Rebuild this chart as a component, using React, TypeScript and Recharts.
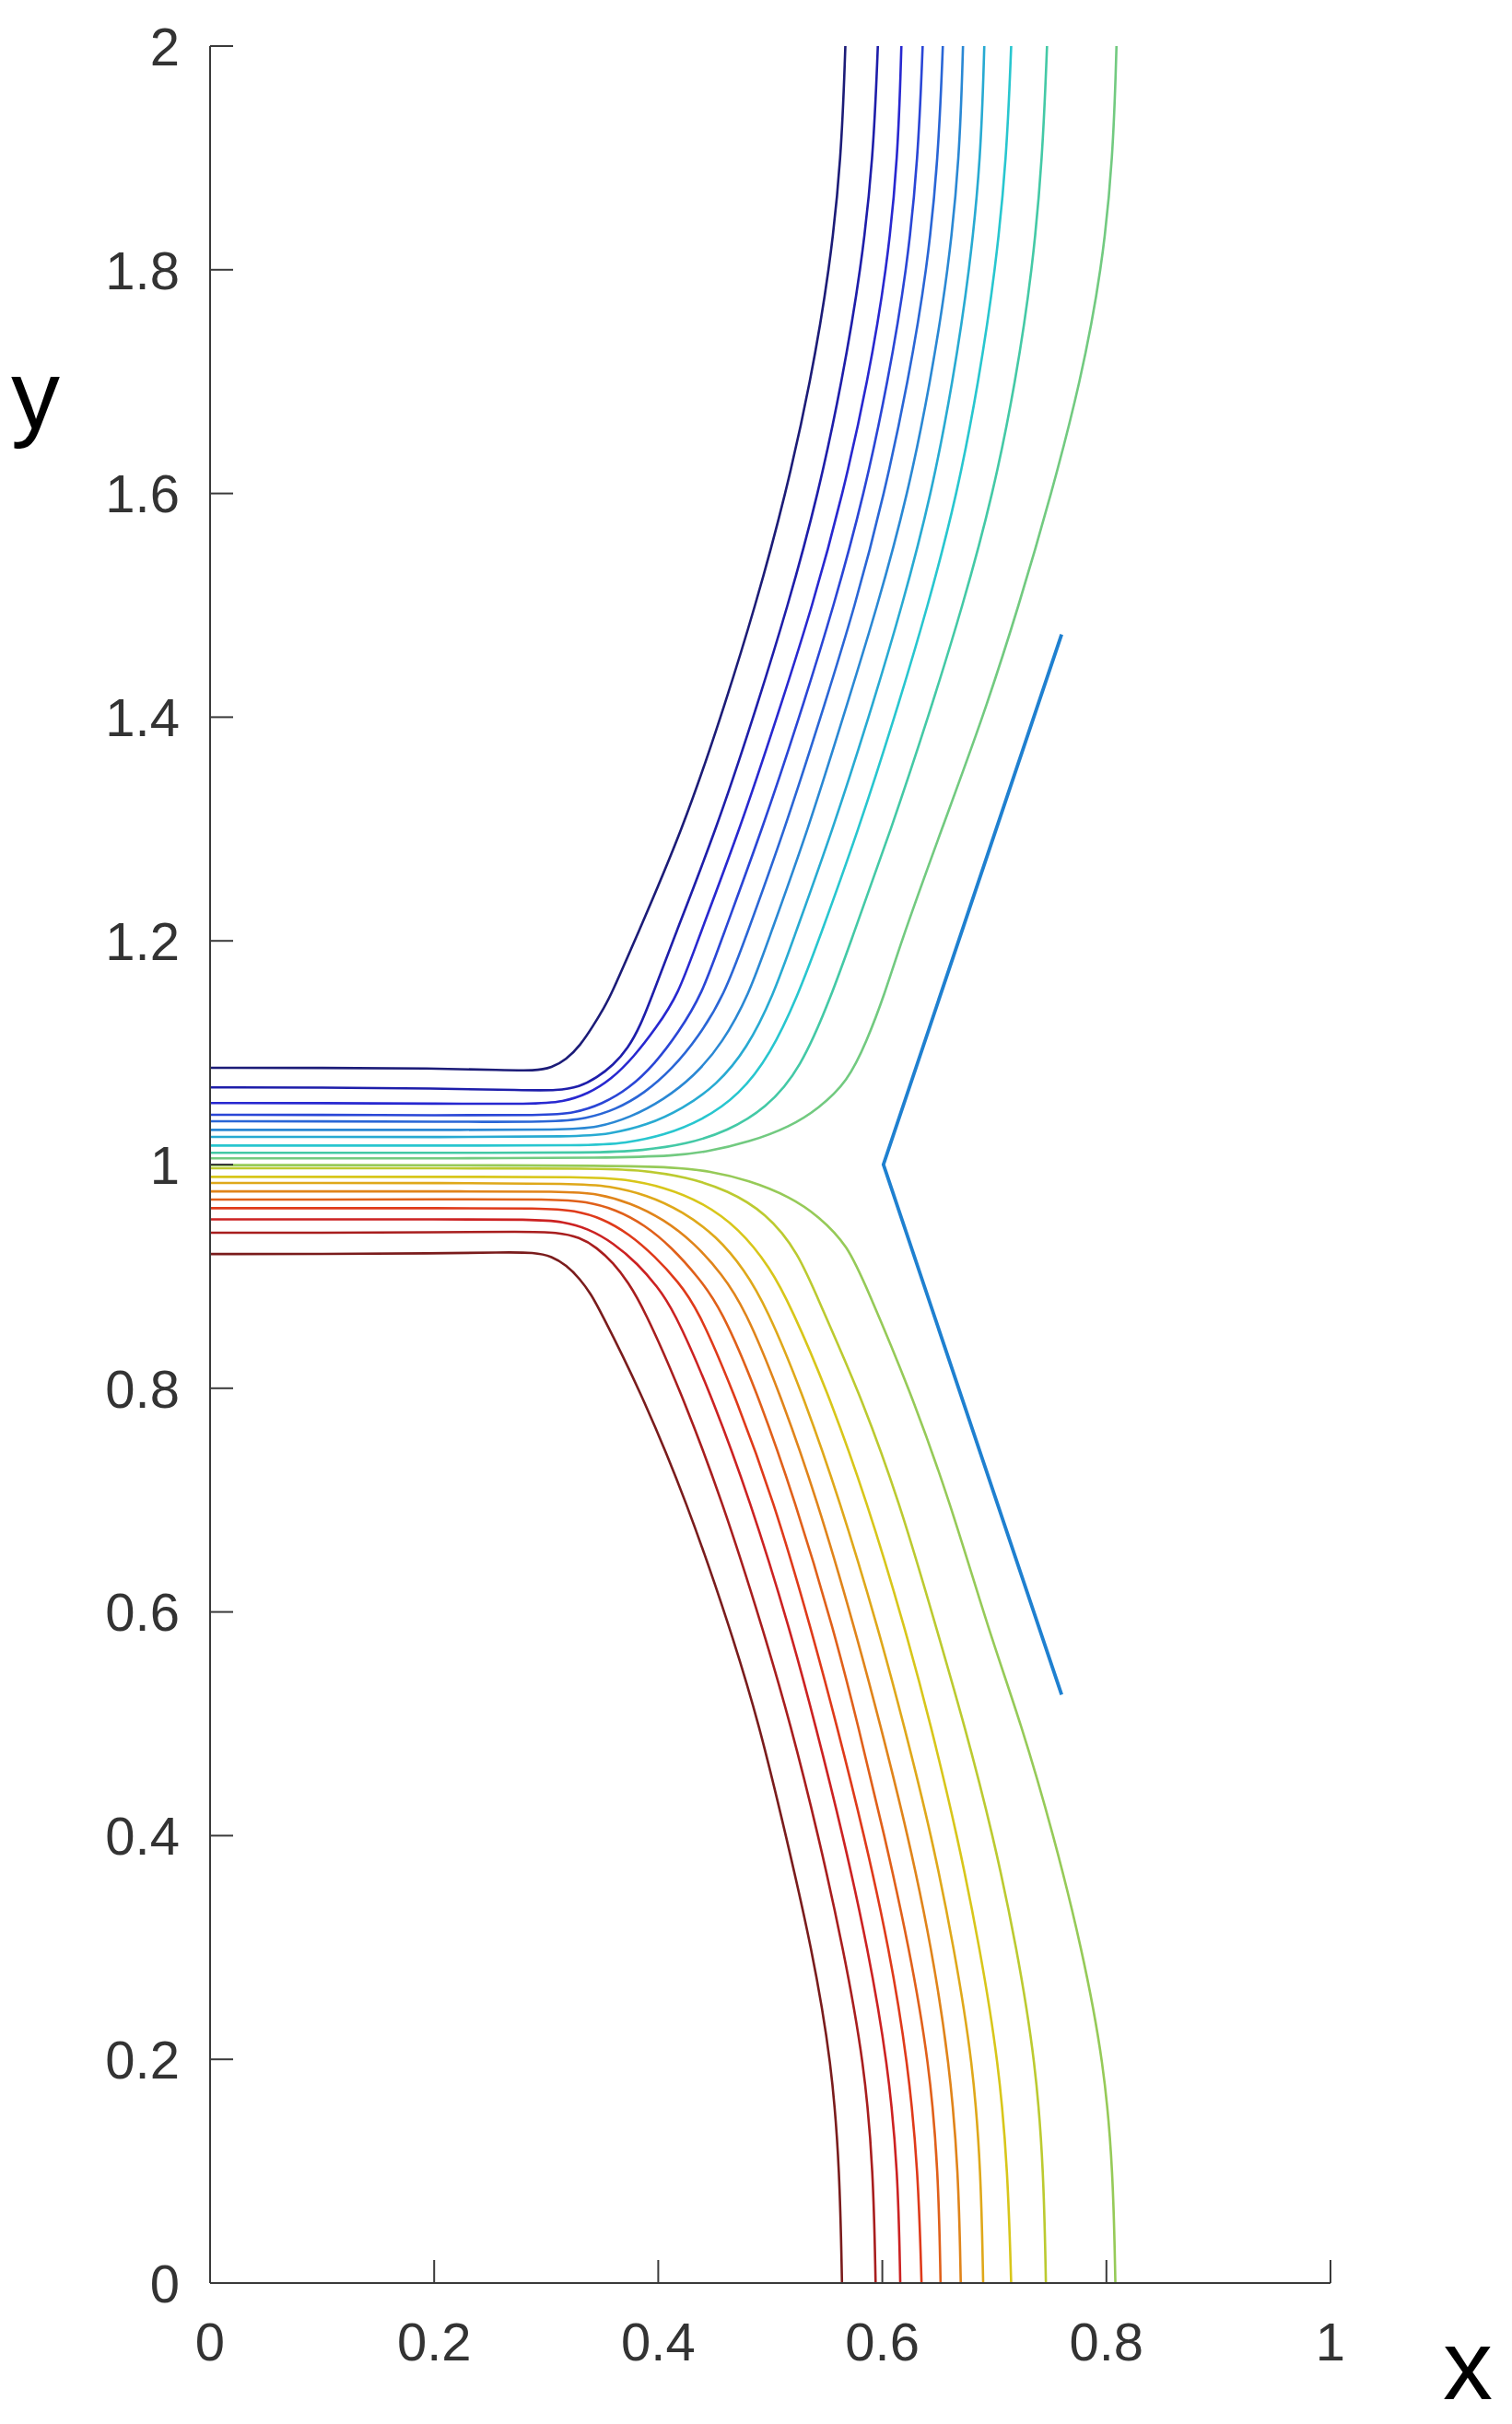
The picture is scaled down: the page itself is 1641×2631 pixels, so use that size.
import React from 'react';
import { LineChart, Line, XAxis, YAxis } from 'recharts';

type P = [number, number];

const xTicks = [0, 0.2, 0.4, 0.6, 0.8, 1];
const xTickLabels = ['0', '0.2', '0.4', '0.6', '0.8', '1'];
const yTicks = [0, 0.2, 0.4, 0.6, 0.8, 1, 1.2, 1.4, 1.6, 1.8, 2];
const yTickLabels = ['0', '0.2', '0.4', '0.6', '0.8', '1', '1.2', '1.4', '1.6', '1.8', '2'];

// upper family (navy -> green), outermost first
const upper0: P[] = [[0,1.0865],[0.1,1.0865],[0.2,1.086],[0.26,1.0845],[0.29,1.0838],[0.305,1.0865],[0.318,1.094],[0.33,1.106],[0.342,1.124],[0.352,1.141],[0.358,1.152],[0.379,1.2],[0.422,1.3],[0.456,1.4],[0.487,1.5],[0.514,1.6],[0.536,1.7],[0.553,1.8],[0.5635,1.9],[0.567,2.0]];
const upper1: P[] = [[0,1.069],[0.1,1.069],[0.2,1.068],[0.28,1.0665],[0.31,1.066],[0.33,1.0695],[0.345,1.0775],[0.36,1.089],[0.373,1.104],[0.384,1.124],[0.395,1.152],[0.413,1.2],[0.452,1.3],[0.485,1.4],[0.516,1.5],[0.543,1.6],[0.564,1.7],[0.581,1.8],[0.592,1.9],[0.596,2.0]];
const upper2: P[] = [[0,1.055],[0.1,1.055],[0.2,1.0545],[0.29,1.054],[0.315,1.056],[0.337,1.063],[0.358,1.076],[0.378,1.096],[0.398,1.122],[0.418,1.152],[0.435,1.2],[0.473,1.3],[0.506,1.4],[0.538,1.5],[0.565,1.6],[0.587,1.7],[0.604,1.8],[0.614,1.9],[0.617,2.0]];
const upper3: P[] = [[0,1.0445],[0.1,1.0445],[0.2,1.044],[0.3,1.044],[0.325,1.046],[0.35,1.054],[0.374,1.068],[0.397,1.09],[0.418,1.118],[0.439,1.152],[0.456,1.2],[0.493,1.3],[0.526,1.4],[0.557,1.5],[0.584,1.6],[0.605,1.7],[0.622,1.8],[0.632,1.9],[0.636,2.0]];
const upper4: P[] = [[0,1.0387],[0.1,1.0387],[0.2,1.0383],[0.31,1.038],[0.335,1.041],[0.362,1.049],[0.388,1.064],[0.412,1.085],[0.436,1.114],[0.459,1.152],[0.477,1.2],[0.513,1.3],[0.545,1.4],[0.576,1.5],[0.602,1.6],[0.623,1.7],[0.64,1.8],[0.65,1.9],[0.654,2.0]];
const upper5: P[] = [[0,1.031],[0.1,1.031],[0.2,1.031],[0.32,1.031],[0.345,1.033],[0.375,1.042],[0.405,1.058],[0.432,1.079],[0.457,1.108],[0.481,1.152],[0.498,1.2],[0.534,1.3],[0.565,1.4],[0.596,1.5],[0.623,1.6],[0.643,1.7],[0.659,1.8],[0.669,1.9],[0.672,2.0]];
const upper6: P[] = [[0,1.0247],[0.1,1.0247],[0.2,1.0245],[0.33,1.025],[0.355,1.027],[0.39,1.035],[0.422,1.05],[0.452,1.071],[0.479,1.103],[0.503,1.152],[0.52,1.2],[0.556,1.3],[0.588,1.4],[0.618,1.5],[0.644,1.6],[0.663,1.7],[0.678,1.8],[0.688,1.9],[0.691,2.0]];
const upper7: P[] = [[0,1.017],[0.1,1.017],[0.2,1.017],[0.34,1.017],[0.37,1.019],[0.405,1.026],[0.44,1.04],[0.472,1.062],[0.5,1.098],[0.525,1.152],[0.543,1.2],[0.579,1.3],[0.611,1.4],[0.641,1.5],[0.667,1.6],[0.686,1.7],[0.701,1.8],[0.711,1.9],[0.715,2.0]];
const upper8: P[] = [[0,1.0105],[0.1,1.0105],[0.2,1.0105],[0.35,1.0105],[0.385,1.0125],[0.425,1.018],[0.462,1.03],[0.496,1.05],[0.527,1.085],[0.555,1.152],[0.572,1.2],[0.608,1.3],[0.641,1.4],[0.672,1.5],[0.699,1.6],[0.719,1.7],[0.734,1.8],[0.743,1.9],[0.747,2.0]];
const upper9: P[] = [[0,1.0055],[0.1,1.0055],[0.2,1.0055],[0.36,1.006],[0.415,1.0078],[0.444,1.0115],[0.481,1.02],[0.518,1.034],[0.543,1.05],[0.569,1.074],[0.586,1.11],[0.602,1.152],[0.617,1.2],[0.653,1.3],[0.69,1.4],[0.722,1.5],[0.751,1.6],[0.777,1.7],[0.796,1.8],[0.806,1.9],[0.809,2.0]];

// lower family (dark red -> green), outermost first
const lower0: P[] = [[0,0.92],[0.1,0.92],[0.2,0.9205],[0.26,0.9215],[0.29,0.9215],[0.305,0.918],[0.318,0.91],[0.33,0.898],[0.34,0.884],[0.347,0.8715],[0.383,0.8],[0.425,0.7],[0.465,0.583],[0.49,0.5],[0.514,0.4],[0.537,0.3],[0.555,0.196],[0.562,0.1],[0.564,0]];
const lower1: P[] = [[0,0.939],[0.1,0.939],[0.2,0.9395],[0.28,0.94],[0.31,0.9395],[0.33,0.935],[0.345,0.926],[0.36,0.912],[0.373,0.895],[0.387,0.8715],[0.419,0.8],[0.457,0.7],[0.494,0.583],[0.518,0.5],[0.543,0.4],[0.565,0.3],[0.584,0.196],[0.592,0.1],[0.594,0]];
const lower2: P[] = [[0,0.951],[0.1,0.951],[0.2,0.951],[0.29,0.951],[0.315,0.949],[0.337,0.943],[0.36,0.93],[0.382,0.911],[0.399,0.891],[0.413,0.8715],[0.445,0.8],[0.482,0.7],[0.518,0.583],[0.54,0.5],[0.565,0.4],[0.587,0.3],[0.605,0.196],[0.614,0.1],[0.616,0]];
const lower3: P[] = [[0,0.961],[0.1,0.961],[0.2,0.961],[0.3,0.961],[0.325,0.959],[0.35,0.952],[0.374,0.938],[0.397,0.918],[0.418,0.895],[0.435,0.8715],[0.466,0.8],[0.503,0.7],[0.537,0.583],[0.559,0.5],[0.584,0.4],[0.606,0.3],[0.623,0.196],[0.632,0.1],[0.635,0]];
const lower4: P[] = [[0,0.9687],[0.1,0.9687],[0.2,0.969],[0.31,0.969],[0.335,0.967],[0.362,0.96],[0.388,0.946],[0.412,0.926],[0.436,0.899],[0.456,0.8715],[0.487,0.8],[0.522,0.7],[0.557,0.583],[0.578,0.5],[0.602,0.4],[0.624,0.3],[0.642,0.196],[0.65,0.1],[0.652,0]];
const lower5: P[] = [[0,0.976],[0.1,0.976],[0.2,0.976],[0.32,0.976],[0.345,0.974],[0.375,0.966],[0.405,0.951],[0.432,0.93],[0.457,0.902],[0.477,0.8715],[0.507,0.8],[0.542,0.7],[0.576,0.583],[0.598,0.5],[0.623,0.4],[0.644,0.3],[0.66,0.196],[0.668,0.1],[0.67,0]];
const lower6: P[] = [[0,0.9835],[0.1,0.9835],[0.2,0.9835],[0.33,0.983],[0.355,0.981],[0.39,0.973],[0.422,0.958],[0.452,0.936],[0.477,0.906],[0.497,0.8715],[0.527,0.8],[0.562,0.7],[0.597,0.583],[0.619,0.5],[0.644,0.4],[0.664,0.3],[0.681,0.196],[0.688,0.1],[0.69,0]];
const lower7: P[] = [[0,0.989],[0.1,0.989],[0.2,0.989],[0.34,0.989],[0.37,0.987],[0.405,0.98],[0.44,0.966],[0.472,0.943],[0.5,0.908],[0.519,0.8715],[0.55,0.8],[0.586,0.7],[0.621,0.583],[0.643,0.5],[0.667,0.4],[0.687,0.3],[0.704,0.196],[0.712,0.1],[0.715,0]];
const lower8: P[] = [[0,0.9967],[0.1,0.9967],[0.2,0.9967],[0.35,0.9965],[0.385,0.995],[0.425,0.989],[0.462,0.977],[0.496,0.957],[0.525,0.922],[0.546,0.8715],[0.578,0.8],[0.615,0.7],[0.649,0.583],[0.673,0.5],[0.699,0.4],[0.72,0.3],[0.737,0.196],[0.744,0.1],[0.746,0]];
const lower9: P[] = [[0,0.9995],[0.1,0.9995],[0.2,0.9995],[0.36,0.999],[0.415,0.9975],[0.444,0.9945],[0.481,0.986],[0.518,0.971],[0.543,0.954],[0.569,0.928],[0.586,0.89],[0.624,0.8],[0.66,0.7],[0.695,0.583],[0.724,0.5],[0.753,0.4],[0.778,0.3],[0.798,0.196],[0.806,0.1],[0.808,0]];

// wedge outline
const wedge: P[] = [[0.76,1.474],[0.601,1.0],[0.76,0.526]];

const upperLines = [upper0, upper1, upper2, upper3, upper4, upper5, upper6, upper7, upper8, upper9];
const upperColors = ['#1c1c78', '#1e1eaa', '#2828d0', '#2a46d6', '#2a66d6', '#2a88d4', '#28aad2', '#28c6cf', '#44c9a6', '#72ca80'];
const lowerLines = [lower0, lower1, lower2, lower3, lower4, lower5, lower6, lower7, lower8, lower9];
const lowerColors = ['#7a1c1c', '#a81e1e', '#cc2222', '#df3a1a', '#e0601a', '#e0841a', '#dfa81a', '#d8c61a', '#bcca30', '#96ca58'];
const wedgeColor = '#1f80d0';

const AXIS = '#3a3a3a';
const TEXT = '#333333';
const FONT = '"Liberation Sans", Arial, Helvetica, sans-serif';

const toData = (pts: P[]) => pts.map(([x, y]) => ({ x, y }));
const findIdx = (arr: number[], v: number) => arr.findIndex((t) => Math.abs(t - v) < 1e-9);

const YTick = (props: any) => {
  const { x, y, payload } = props;
  const i = findIdx(yTicks, payload.value);
  return (
    <g>
      <line x1={x} y1={y} x2={x + 25} y2={y} stroke={AXIS} strokeWidth={2} />
      <text x={x - 33} y={y} dy="0.36em" textAnchor="end" fontSize={58} fill={TEXT} fontFamily={FONT}>
        {yTickLabels[i]}
      </text>
    </g>
  );
};

const XTick = (props: any) => {
  const { x, y, payload } = props;
  const i = findIdx(xTicks, payload.value);
  return (
    <g>
      <line x1={x} y1={y} x2={x} y2={y - 25} stroke={AXIS} strokeWidth={2} />
      <text x={x} y={y + 84} textAnchor="middle" fontSize={58} fill={TEXT} fontFamily={FONT}>
        {xTickLabels[i]}
      </text>
    </g>
  );
};

const XLabel = (props: any) => {
  const vb = props.viewBox || { x: 0, y: 0, width: 0, height: 0 };
  return (
    <text x={vb.x + vb.width + 122} y={vb.y + 126} fontSize={108} fill="#000" fontFamily={FONT}>
      x
    </text>
  );
};

const YLabel = (props: any) => {
  const vb = props.viewBox || { x: 0, y: 0, width: 0, height: 0 };
  return (
    <text x={vb.x + vb.width - 216} y={vb.y + 415} fontSize={106} fill="#000" fontFamily={FONT}>
      y
    </text>
  );
};

export default function App() {
  return (
    <div style={{ position: 'absolute', left: 0, top: 0, width: 1641, height: 2631, background: '#fff' }}>
      <LineChart width={1641} height={2631} margin={{ top: 50, left: 227, right: 197, bottom: 152 }}>
        <XAxis
          type="number"
          dataKey="x"
          domain={[0, 1]}
          ticks={xTicks}
          interval={0}
          height={1}
          tickSize={0}
          tickMargin={0}
          tickLine={false}
          axisLine={{ stroke: AXIS, strokeWidth: 2 }}
          tick={<XTick />}
          label={<XLabel />}
          allowDataOverflow
        />
        <YAxis
          type="number"
          dataKey="y"
          domain={[0, 2]}
          ticks={yTicks}
          interval={0}
          width={1}
          tickSize={0}
          tickMargin={0}
          tickLine={false}
          axisLine={{ stroke: AXIS, strokeWidth: 2 }}
          tick={<YTick />}
          label={<YLabel />}
          allowDataOverflow
        />
        {lowerLines.map((pts, i) => (
          <Line
            key={'lo' + i}
            data={toData(pts)}
            dataKey="y"
            type="basis"
            stroke={lowerColors[i]}
            strokeWidth={2.6}
            dot={false}
            activeDot={false}
            isAnimationActive={false}
          />
        ))}
        {upperLines.map((pts, i) => (
          <Line
            key={'up' + i}
            data={toData(pts)}
            dataKey="y"
            type="basis"
            stroke={upperColors[i]}
            strokeWidth={2.6}
            dot={false}
            activeDot={false}
            isAnimationActive={false}
          />
        ))}
        <Line
          data={toData(wedge)}
          dataKey="y"
          type="linear"
          stroke={wedgeColor}
          strokeWidth={3.8}
          dot={false}
          activeDot={false}
          isAnimationActive={false}
        />
      </LineChart>
    </div>
  );
}
